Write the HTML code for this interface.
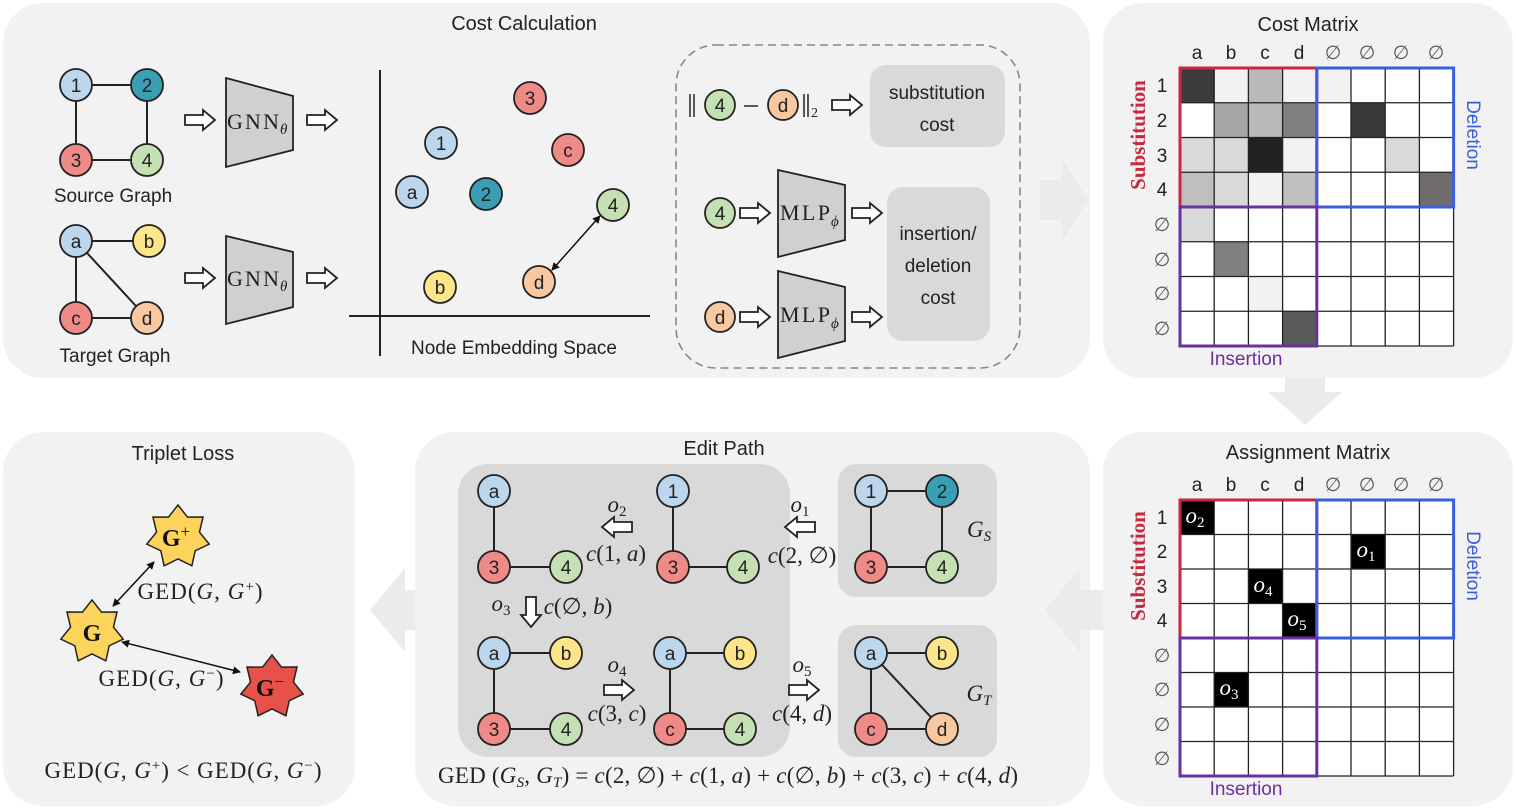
<!DOCTYPE html>
<html><head><meta charset="utf-8"><style>
html,body{margin:0;padding:0;background:#fff}
svg{display:block}
.s{font-family:"Liberation Sans",sans-serif}
.m{font-family:"Liberation Serif",serif}
</style></head><body>
<svg width="1516" height="811" viewBox="0 0 1516 811" xmlns="http://www.w3.org/2000/svg">
<defs>
<path id="ar" d="M0,-5 L18,-5 L18,-10 L30,0 L18,10 L18,5 L0,5 Z" fill="#fff" stroke="#222" stroke-width="1.8"/>
<polygon id="star" points="0,-32 9.55,-19.82 25.02,-19.95 21.45,-4.9 31.2,7.12 17.2,13.72 13.88,28.83 0,22 -13.88,28.83 -17.2,13.72 -31.2,7.12 -21.45,-4.9 -25.02,-19.95 -9.55,-19.82" stroke="#222" stroke-width="1.5"/>
<marker id="ah" markerWidth="8" markerHeight="8" refX="7" refY="4" orient="auto-start-reverse" markerUnits="userSpaceOnUse"><path d="M0,0 L8,4 L0,8 Z" fill="#111"/></marker>
</defs>
<rect x="3" y="3" width="1087" height="375" rx="40" fill="#f2f2f2"/>
<rect x="1103" y="3" width="410" height="375" rx="40" fill="#f2f2f2"/>
<rect x="3" y="432" width="352" height="374" rx="40" fill="#f2f2f2"/>
<rect x="415" y="432" width="675" height="374" rx="40" fill="#f2f2f2"/>
<rect x="1103" y="432" width="410" height="374" rx="40" fill="#f2f2f2"/>
<path d="M1040,180 L1062,180 L1062,158 L1088,200 L1062,242 L1062,220 L1040,220 Z" fill="#ebebeb"/>
<path d="M1285,378 L1285,392 L1268,392 L1305,425 L1342,392 L1325,392 L1325,378 Z" fill="#ebebeb"/>
<path d="M1103,590 L1080,590 L1080,568 L1045,610 L1080,652 L1080,630 L1103,630 Z" fill="#ebebeb"/>
<path d="M415,590 L405,590 L405,568 L370,610 L405,652 L405,630 L415,630 Z" fill="#ebebeb"/>

<g class="s" font-size="20" fill="#222" text-anchor="middle">
<text x="524" y="30">Cost Calculation</text>
<text x="1308" y="31">Cost Matrix</text>
<text x="1308" y="459">Assignment Matrix</text>
<text x="724" y="455">Edit Path</text>
<text x="183" y="460">Triplet Loss</text>
</g>

<g stroke="#222" stroke-width="2">
<line x1="76" y1="85" x2="147" y2="85"/><line x1="76" y1="85" x2="76" y2="160"/><line x1="147" y1="85" x2="147" y2="160"/><line x1="76" y1="160" x2="147" y2="160"/>
<line x1="76" y1="241" x2="149" y2="241"/><line x1="76" y1="241" x2="76" y2="318"/><line x1="76" y1="241" x2="147" y2="318"/><line x1="76" y1="318" x2="147" y2="318"/>
</g>
<g stroke="#222" stroke-width="1.8">
<circle cx="76" cy="85" r="16" fill="#bcd6ee"/><circle cx="147" cy="85" r="16" fill="#3a9fb5"/><circle cx="76" cy="160" r="16" fill="#ef8a87"/><circle cx="147" cy="160" r="16" fill="#c5e0b3"/>
<circle cx="76" cy="241" r="16" fill="#bcd6ee"/><circle cx="149" cy="241" r="16" fill="#fde58a"/><circle cx="76" cy="318" r="16" fill="#ef8a87"/><circle cx="147" cy="318" r="16" fill="#f8c8a0"/>
</g>
<g class="s" font-size="19" fill="#222" text-anchor="middle">
<text x="76" y="92">1</text><text x="147" y="92">2</text><text x="76" y="167">3</text><text x="147" y="167">4</text>
<text x="76" y="248">a</text><text x="149" y="248">b</text><text x="76" y="325">c</text><text x="147" y="325">d</text>
<text x="113" y="202">Source Graph</text><text x="115" y="362">Target Graph</text>
</g>
<polygon points="226,78 293,96 293,150 226,167" fill="#d0d0d0" stroke="#222" stroke-width="1.8"/>
<polygon points="226,236 293,252 293,307 226,324" fill="#d0d0d0" stroke="#222" stroke-width="1.8"/>
<g class="m" font-size="22" fill="#222"><text x="227" y="129" textLength="52">GNN</text><text x="280" y="134" font-size="15" font-style="italic">θ</text><text x="227" y="286" textLength="52">GNN</text><text x="280" y="291" font-size="15" font-style="italic">θ</text></g>
<use href="#ar" x="185" y="120"/><use href="#ar" x="307" y="120"/><use href="#ar" x="185" y="278"/><use href="#ar" x="307" y="278"/>
<line x1="380" y1="70" x2="380" y2="356" stroke="#222" stroke-width="2"/>
<line x1="349" y1="316" x2="650" y2="316" stroke="#222" stroke-width="2"/>
<line x1="600" y1="216" x2="552" y2="270" stroke="#111" stroke-width="1.5" marker-start="url(#ah)" marker-end="url(#ah)"/>
<g stroke="#222" stroke-width="1.8">
<circle cx="530" cy="98" r="16" fill="#ef8a87"/><circle cx="441" cy="143" r="16" fill="#bcd6ee"/><circle cx="568" cy="150" r="16" fill="#ef8a87"/><circle cx="412" cy="192" r="16" fill="#bcd6ee"/><circle cx="486" cy="194" r="16" fill="#3a9fb5"/><circle cx="613" cy="205" r="16" fill="#c5e0b3"/><circle cx="440" cy="287" r="16" fill="#fde58a"/><circle cx="539" cy="282" r="16" fill="#f8c8a0"/>
</g>
<g class="s" font-size="19" fill="#222" text-anchor="middle">
<text x="530" y="105">3</text><text x="441" y="150">1</text><text x="568" y="157">c</text><text x="412" y="199">a</text><text x="486" y="201">2</text><text x="613" y="212">4</text><text x="440" y="294">b</text><text x="539" y="289">d</text>
<text x="514" y="354">Node Embedding Space</text>
</g>
<rect x="676" y="45" width="344" height="323" rx="40" fill="none" stroke="#888" stroke-width="1.6" stroke-dasharray="8,5"/>
<rect x="870" y="65" width="135" height="82" rx="16" fill="#d9d9d9"/>
<rect x="887" y="187" width="103" height="154" rx="16" fill="#d9d9d9"/>
<g stroke="#222" stroke-width="1.8">
<circle cx="720" cy="105" r="15" fill="#c5e0b3"/><circle cx="783" cy="105" r="15" fill="#f8c8a0"/>
<circle cx="720" cy="213" r="15" fill="#c5e0b3"/><circle cx="720" cy="317" r="15" fill="#f8c8a0"/>
</g>
<polygon points="778,170 845,185 845,240 778,257" fill="#d0d0d0" stroke="#222" stroke-width="1.8"/>
<polygon points="778,271 845,287 845,341 778,358" fill="#d0d0d0" stroke="#222" stroke-width="1.8"/>
<g class="s" font-size="19" fill="#222" text-anchor="middle">
<text x="720" y="112">4</text><text x="783" y="112">d</text><text x="720" y="220">4</text><text x="720" y="324">d</text>
<text x="937" y="99">substitution</text><text x="937" y="131">cost</text>
<text x="938" y="240">insertion/</text><text x="938" y="272">deletion</text><text x="938" y="304">cost</text>
</g>
<g stroke="#222" stroke-width="1.5">
<line x1="690" y1="94" x2="690" y2="117"/><line x1="694" y1="94" x2="694" y2="117"/>
<line x1="744" y1="106" x2="758" y2="106"/>
<line x1="804" y1="94" x2="804" y2="117"/><line x1="808" y1="94" x2="808" y2="117"/>
</g>
<g class="m" fill="#222">
<text x="811" y="117" font-size="14">2</text>
<text x="780" y="220" font-size="22" textLength="50">MLP</text><text x="831" y="226" font-size="15" font-style="italic">ϕ</text>
<text x="780" y="322" font-size="22" textLength="50">MLP</text><text x="831" y="328" font-size="15" font-style="italic">ϕ</text>
</g>
<use href="#ar" x="832" y="105"/><use href="#ar" x="740" y="213"/><use href="#ar" x="852" y="213"/><use href="#ar" x="740" y="317"/><use href="#ar" x="852" y="317"/>

<!-- Cost matrix -->
<g stroke="none">
<rect x="1180" y="68" width="273.6" height="278" fill="#fff"/>
<rect x="1180" y="68" width="34.2" height="34.75" fill="#3c3c3c"/>
<rect x="1214.2" y="68" width="34.2" height="34.75" fill="#f2f2f2"/>
<rect x="1248.4" y="68" width="34.2" height="34.75" fill="#b9b9b9"/>
<rect x="1282.6" y="68" width="34.2" height="34.75" fill="#f2f2f2"/>
<rect x="1316.8" y="68" width="34.2" height="34.75" fill="#f2f2f2"/>
<rect x="1214.2" y="102.75" width="34.2" height="34.75" fill="#a6a6a6"/>
<rect x="1248.4" y="102.75" width="34.2" height="34.75" fill="#b9b9b9"/>
<rect x="1282.6" y="102.75" width="34.2" height="34.75" fill="#808080"/>
<rect x="1351" y="102.75" width="34.2" height="34.75" fill="#3a3a3a"/>
<rect x="1180" y="137.5" width="34.2" height="34.75" fill="#d9d9d9"/>
<rect x="1214.2" y="137.5" width="34.2" height="34.75" fill="#d9d9d9"/>
<rect x="1248.4" y="137.5" width="34.2" height="34.75" fill="#222"/>
<rect x="1282.6" y="137.5" width="34.2" height="34.75" fill="#f2f2f2"/>
<rect x="1385.2" y="137.5" width="34.2" height="34.75" fill="#d9d9d9"/>
<rect x="1180" y="172.25" width="34.2" height="34.75" fill="#bfbfbf"/>
<rect x="1214.2" y="172.25" width="34.2" height="34.75" fill="#d9d9d9"/>
<rect x="1248.4" y="172.25" width="34.2" height="34.75" fill="#f2f2f2"/>
<rect x="1282.6" y="172.25" width="34.2" height="34.75" fill="#bfbfbf"/>
<rect x="1419.4" y="172.25" width="34.2" height="34.75" fill="#706c6c"/>
<rect x="1180" y="207" width="34.2" height="34.75" fill="#d9d9d9"/>
<rect x="1214.2" y="241.75" width="34.2" height="34.75" fill="#808080"/>
<rect x="1248.4" y="276.5" width="34.2" height="34.75" fill="#f2f2f2"/>
<rect x="1282.6" y="311.25" width="34.2" height="34.75" fill="#595959"/>
</g>
<g stroke="#222" stroke-width="1.3" fill="none">
<path d="M1180,68 V346 M1214.2,68 V346 M1248.4,68 V346 M1282.6,68 V346 M1316.8,68 V346 M1351,68 V346 M1385.2,68 V346 M1419.4,68 V346 M1453.6,68 V346"/>
<path d="M1180,68 H1453.6 M1180,102.75 H1453.6 M1180,137.5 H1453.6 M1180,172.25 H1453.6 M1180,207 H1453.6 M1180,241.75 H1453.6 M1180,276.5 H1453.6 M1180,311.25 H1453.6 M1180,346 H1453.6"/>
</g>
<rect x="1180" y="68" width="136.8" height="139" fill="none" stroke="#c8283c" stroke-width="3"/>
<rect x="1316.8" y="68" width="136.8" height="139" fill="none" stroke="#3b5ee0" stroke-width="3"/>
<rect x="1180" y="207" width="136.8" height="139" fill="none" stroke="#6a2fa0" stroke-width="3"/>
<g class="s" font-size="19" fill="#222" text-anchor="middle">
<text x="1197" y="59">a</text><text x="1231" y="59">b</text><text x="1265" y="59">c</text><text x="1299" y="59">d</text>
<text x="1333" y="59" fill="#555">∅</text><text x="1367" y="59" fill="#555">∅</text><text x="1401" y="59" fill="#555">∅</text><text x="1436" y="59" fill="#555">∅</text>
<text x="1162" y="92">1</text><text x="1162" y="127">2</text><text x="1162" y="162">3</text><text x="1162" y="196">4</text>
<g fill="#555"><text x="1162" y="231">∅</text><text x="1162" y="266">∅</text><text x="1162" y="300">∅</text><text x="1162" y="335">∅</text></g>
<text x="1246" y="365" fill="#6a2fa0">Insertion</text>
<text transform="translate(1467,135) rotate(90)" fill="#3b5ee0">Deletion</text>
</g>
<text class="m" transform="translate(1145,135) rotate(-90)" font-size="21" font-weight="bold" fill="#c8283c" text-anchor="middle">Substitution</text>

<!-- Assignment matrix -->
<rect x="1180" y="500" width="273.6" height="276" fill="#fff"/>
<g fill="#000">
<rect x="1180" y="500" width="34.2" height="34.5"/>
<rect x="1351" y="534.5" width="34.2" height="34.5"/>
<rect x="1248.4" y="569" width="34.2" height="34.5"/>
<rect x="1282.6" y="603.5" width="34.2" height="34.5"/>
<rect x="1214.2" y="672.5" width="34.2" height="34.5"/>
</g>
<g stroke="#222" stroke-width="1.3" fill="none">
<path d="M1180,500 V776 M1214.2,500 V776 M1248.4,500 V776 M1282.6,500 V776 M1316.8,500 V776 M1351,500 V776 M1385.2,500 V776 M1419.4,500 V776 M1453.6,500 V776"/>
<path d="M1180,500 H1453.6 M1180,534.5 H1453.6 M1180,569 H1453.6 M1180,603.5 H1453.6 M1180,638 H1453.6 M1180,672.5 H1453.6 M1180,707 H1453.6 M1180,741.5 H1453.6 M1180,776 H1453.6"/>
</g>
<rect x="1180" y="500" width="136.8" height="138" fill="none" stroke="#c8283c" stroke-width="3"/>
<rect x="1316.8" y="500" width="136.8" height="138" fill="none" stroke="#3b5ee0" stroke-width="3"/>
<rect x="1180" y="638" width="136.8" height="138" fill="none" stroke="#6a2fa0" stroke-width="3"/>
<g class="m" font-size="23" font-style="italic" fill="#fff" text-anchor="middle">
<text x="1195" y="523">o<tspan font-size="15" font-style="normal" dy="4">2</tspan></text>
<text x="1366" y="557">o<tspan font-size="15" font-style="normal" dy="4">1</tspan></text>
<text x="1263" y="592">o<tspan font-size="15" font-style="normal" dy="4">4</tspan></text>
<text x="1297" y="626">o<tspan font-size="15" font-style="normal" dy="4">5</tspan></text>
<text x="1229" y="695">o<tspan font-size="15" font-style="normal" dy="4">3</tspan></text>
</g>
<g class="s" font-size="19" fill="#222" text-anchor="middle">
<text x="1197" y="491">a</text><text x="1231" y="491">b</text><text x="1265" y="491">c</text><text x="1299" y="491">d</text>
<text x="1333" y="491" fill="#555">∅</text><text x="1367" y="491" fill="#555">∅</text><text x="1401" y="491" fill="#555">∅</text><text x="1436" y="491" fill="#555">∅</text>
<text x="1162" y="524">1</text><text x="1162" y="558">2</text><text x="1162" y="593">3</text><text x="1162" y="627">4</text>
<g fill="#555"><text x="1162" y="662">∅</text><text x="1162" y="696">∅</text><text x="1162" y="731">∅</text><text x="1162" y="765">∅</text></g>
<text x="1246" y="795" fill="#6a2fa0">Insertion</text>
<text transform="translate(1467,566) rotate(90)" fill="#3b5ee0">Deletion</text>
</g>
<text class="m" transform="translate(1145,566) rotate(-90)" font-size="21" font-weight="bold" fill="#c8283c" text-anchor="middle">Substitution</text>

<!-- Edit path -->
<rect x="458" y="464" width="332" height="293" rx="30" fill="#d9d9d9"/>
<rect x="838" y="464" width="159" height="133" rx="18" fill="#d9d9d9"/>
<rect x="838" y="625" width="159" height="132" rx="18" fill="#d9d9d9"/>
<g stroke="#222" stroke-width="2">
<line x1="494" y1="491" x2="494" y2="567"/><line x1="494" y1="567" x2="566" y2="567"/>
<line x1="673" y1="491" x2="673" y2="567"/><line x1="673" y1="567" x2="743" y2="567"/>
<line x1="871" y1="491" x2="942" y2="491"/><line x1="871" y1="491" x2="871" y2="567"/><line x1="942" y1="491" x2="942" y2="567"/><line x1="871" y1="567" x2="942" y2="567"/>
<line x1="494" y1="653" x2="566" y2="653"/><line x1="494" y1="653" x2="494" y2="729"/><line x1="494" y1="729" x2="566" y2="729"/>
<line x1="670" y1="653" x2="740" y2="653"/><line x1="670" y1="653" x2="670" y2="729"/><line x1="670" y1="729" x2="740" y2="729"/>
<line x1="871" y1="653" x2="942" y2="653"/><line x1="871" y1="653" x2="871" y2="729"/><line x1="871" y1="653" x2="942" y2="729"/><line x1="871" y1="729" x2="942" y2="729"/>
</g>
<g stroke="#222" stroke-width="1.8">
<circle cx="494" cy="491" r="16" fill="#bcd6ee"/><circle cx="494" cy="567" r="16" fill="#ef8a87"/><circle cx="566" cy="567" r="16" fill="#c5e0b3"/>
<circle cx="673" cy="491" r="16" fill="#bcd6ee"/><circle cx="673" cy="567" r="16" fill="#ef8a87"/><circle cx="743" cy="567" r="16" fill="#c5e0b3"/>
<circle cx="871" cy="491" r="16" fill="#bcd6ee"/><circle cx="942" cy="491" r="16" fill="#3a9fb5"/><circle cx="871" cy="567" r="16" fill="#ef8a87"/><circle cx="942" cy="567" r="16" fill="#c5e0b3"/>
<circle cx="494" cy="653" r="16" fill="#bcd6ee"/><circle cx="566" cy="653" r="16" fill="#fde58a"/><circle cx="494" cy="729" r="16" fill="#ef8a87"/><circle cx="566" cy="729" r="16" fill="#c5e0b3"/>
<circle cx="670" cy="653" r="16" fill="#bcd6ee"/><circle cx="740" cy="653" r="16" fill="#fde58a"/><circle cx="670" cy="729" r="16" fill="#ef8a87"/><circle cx="740" cy="729" r="16" fill="#c5e0b3"/>
<circle cx="871" cy="653" r="16" fill="#bcd6ee"/><circle cx="942" cy="653" r="16" fill="#fde58a"/><circle cx="871" cy="729" r="16" fill="#ef8a87"/><circle cx="942" cy="729" r="16" fill="#f8c8a0"/>
</g>
<g class="s" font-size="19" fill="#222" text-anchor="middle">
<text x="494" y="498">a</text><text x="494" y="574">3</text><text x="566" y="574">4</text>
<text x="673" y="498">1</text><text x="673" y="574">3</text><text x="743" y="574">4</text>
<text x="871" y="498">1</text><text x="942" y="498">2</text><text x="871" y="574">3</text><text x="942" y="574">4</text>
<text x="494" y="660">a</text><text x="566" y="660">b</text><text x="494" y="736">3</text><text x="566" y="736">4</text>
<text x="670" y="660">a</text><text x="740" y="660">b</text><text x="670" y="736">c</text><text x="740" y="736">4</text>
<text x="871" y="660">a</text><text x="942" y="660">b</text><text x="871" y="736">c</text><text x="942" y="736">d</text>
</g>
<use href="#ar" transform="translate(632,527) rotate(180)"/>
<use href="#ar" transform="translate(815,527) rotate(180)"/>
<use href="#ar" transform="translate(531,597) rotate(90)"/>
<use href="#ar" x="604" y="690"/><use href="#ar" x="789" y="690"/>
<g class="m" font-size="23" fill="#222" text-anchor="middle" font-style="italic">
<text x="617" y="512">o<tspan font-size="15" font-style="normal" dy="4">2</tspan></text>
<text x="800" y="512">o<tspan font-size="15" font-style="normal" dy="4">1</tspan></text>
<text x="501" y="611">o<tspan font-size="15" font-style="normal" dy="4">3</tspan></text>
<text x="617" y="672">o<tspan font-size="15" font-style="normal" dy="4">4</tspan></text>
<text x="802" y="672">o<tspan font-size="15" font-style="normal" dy="4">5</tspan></text>
</g>
<g class="m" font-size="23" fill="#222" text-anchor="middle">
<text x="616" y="561"><tspan font-style="italic">c</tspan>(1, <tspan font-style="italic">a</tspan>)</text>
<text x="802" y="563"><tspan font-style="italic">c</tspan>(2, ∅)</text>
<text x="578" y="614"><tspan font-style="italic">c</tspan>(∅, <tspan font-style="italic">b</tspan>)</text>
<text x="617" y="721"><tspan font-style="italic">c</tspan>(3, <tspan font-style="italic">c</tspan>)</text>
<text x="802" y="721"><tspan font-style="italic">c</tspan>(4, <tspan font-style="italic">d</tspan>)</text>
<text x="979" y="537" font-style="italic">G<tspan font-size="15" dy="4">S</tspan></text>
<text x="979" y="701" font-style="italic">G<tspan font-size="15" dy="4">T</tspan></text>
<text x="728" y="783" textLength="580">GED (<tspan font-style="italic">G</tspan><tspan font-size="15" font-style="italic" dy="4">S</tspan><tspan dy="-4">, </tspan><tspan font-style="italic">G</tspan><tspan font-size="15" font-style="italic" dy="4">T</tspan><tspan dy="-4">) = </tspan><tspan font-style="italic">c</tspan>(2, ∅) + <tspan font-style="italic">c</tspan>(1, <tspan font-style="italic">a</tspan>) + <tspan font-style="italic">c</tspan>(∅, <tspan font-style="italic">b</tspan>) + <tspan font-style="italic">c</tspan>(3, <tspan font-style="italic">c</tspan>) + <tspan font-style="italic">c</tspan>(4, <tspan font-style="italic">d</tspan>)</text>
</g>

<!-- Triplet -->
<line x1="154" y1="562" x2="113" y2="606" stroke="#111" stroke-width="1.5" marker-start="url(#ah)" marker-end="url(#ah)"/>
<line x1="122" y1="642" x2="240" y2="672" stroke="#111" stroke-width="1.5" marker-start="url(#ah)" marker-end="url(#ah)"/>
<use href="#star" x="178" y="537" fill="#fcd45c"/>
<use href="#star" x="92" y="632" fill="#fcd45c"/>
<use href="#star" x="272" y="687" fill="#e8504a"/>
<g class="m" font-weight="bold" font-size="24" fill="#111" text-anchor="middle">
<text x="176" y="546">G<tspan font-size="17" font-weight="normal" dy="-9">+</tspan></text>
<text x="92" y="641">G</text>
<text x="270" y="696">G<tspan font-size="17" font-weight="normal" dy="-9">−</tspan></text>
</g>
<g class="m" font-size="23" fill="#222" text-anchor="middle">
<text x="200" y="599" textLength="125">GED(<tspan font-style="italic">G</tspan>, <tspan font-style="italic">G</tspan><tspan font-size="15" dy="-8">+</tspan><tspan dy="8">)</tspan></text>
<text x="161" y="686" textLength="125">GED(<tspan font-style="italic">G</tspan>, <tspan font-style="italic">G</tspan><tspan font-size="15" dy="-8">−</tspan><tspan dy="8">)</tspan></text>
<text x="183" y="778" textLength="277">GED(<tspan font-style="italic">G</tspan>, <tspan font-style="italic">G</tspan><tspan font-size="15" dy="-8">+</tspan><tspan dy="8">) &lt; GED(</tspan><tspan font-style="italic">G</tspan>, <tspan font-style="italic">G</tspan><tspan font-size="15" dy="-8">−</tspan><tspan dy="8">)</tspan></text>
</g>
</svg>
</body></html>
